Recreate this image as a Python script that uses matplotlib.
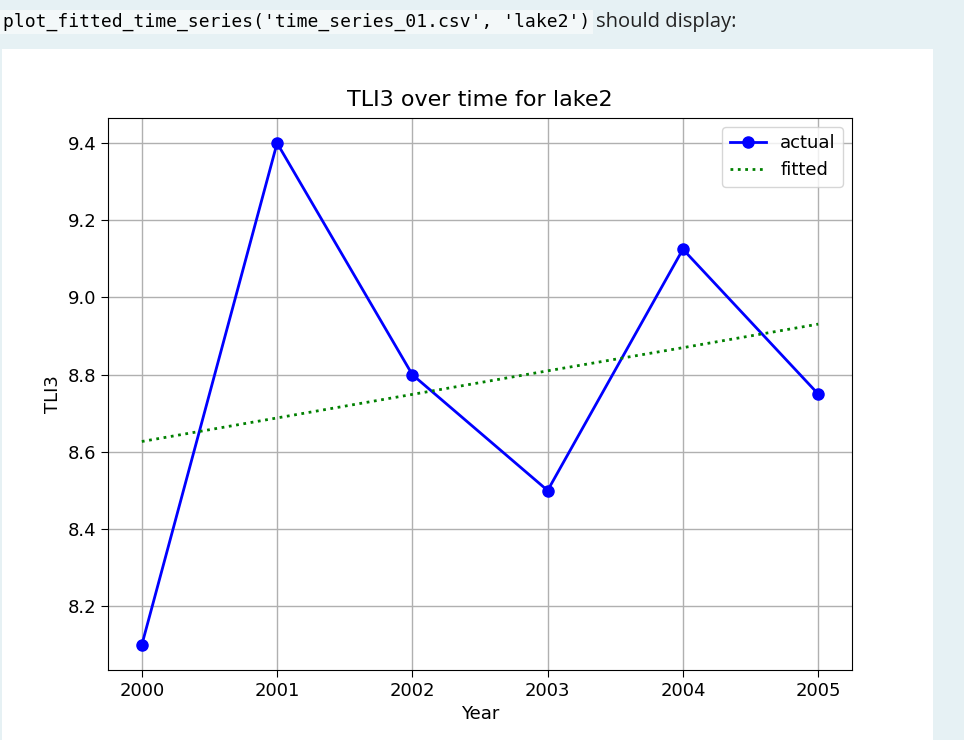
import matplotlib.pyplot as plt
from matplotlib.patches import Rectangle

years = [2000, 2001, 2002, 2003, 2004, 2005]
actual = [8.1, 9.4, 8.8, 8.5, 9.125, 8.75]
fitted = [8.627, 8.688, 8.749, 8.810, 8.870, 8.931]
y_ticks = [8.2, 8.4, 8.6, 8.8, 9.0, 9.2, 9.4]

W, H = 964, 740
fig = plt.figure(figsize=(W / 100, H / 100), dpi=100)
fig.patch.set_facecolor('#e6f1f4')

# white output panel and header text
fig.patches.append(Rectangle((2 / W, 0), 931 / W, 1 - 49 / H, transform=fig.transFigure,
                             facecolor='white', edgecolor='none', zorder=-1))
fig.text(3 / W, 1 - 22 / H, "plot_fitted_time_series('time_series_01.csv', 'lake2')",
         family='DejaVu Sans Mono', fontsize=13, va='center', ha='left',
         bbox=dict(facecolor='#f3f8f9', edgecolor='none', pad=2))
fig.text(596 / W, 1 - 22 / H, 'should display:', family='Open Sans', fontsize=14.5,
         va='center', ha='left', color='#222222')

ax = fig.add_axes([108 / W, 1 - 670 / H, 744 / W, 552 / H])
ax.set_zorder(2)
ax.plot(years, actual, 'o-', color='blue', markersize=8, linewidth=2, label='actual')
ax.plot(years, fitted, ':', color='green', linewidth=2, label='fitted')
ax.set_yticks(y_ticks)
ax.set_xticks(years)
ax.grid(True, color='#b0b0b0', linewidth=1)
ax.tick_params(labelsize=13, length=5)
ax.set_xlabel('Year', fontsize=13)
ax.set_ylabel('TLI3', fontsize=13)
ax.set_title('TLI3 over time for lake2', fontsize=16, pad=9)
ax.legend(fontsize=13, loc='upper right')

fig.savefig('out.png', dpi=100, facecolor=fig.get_facecolor())
